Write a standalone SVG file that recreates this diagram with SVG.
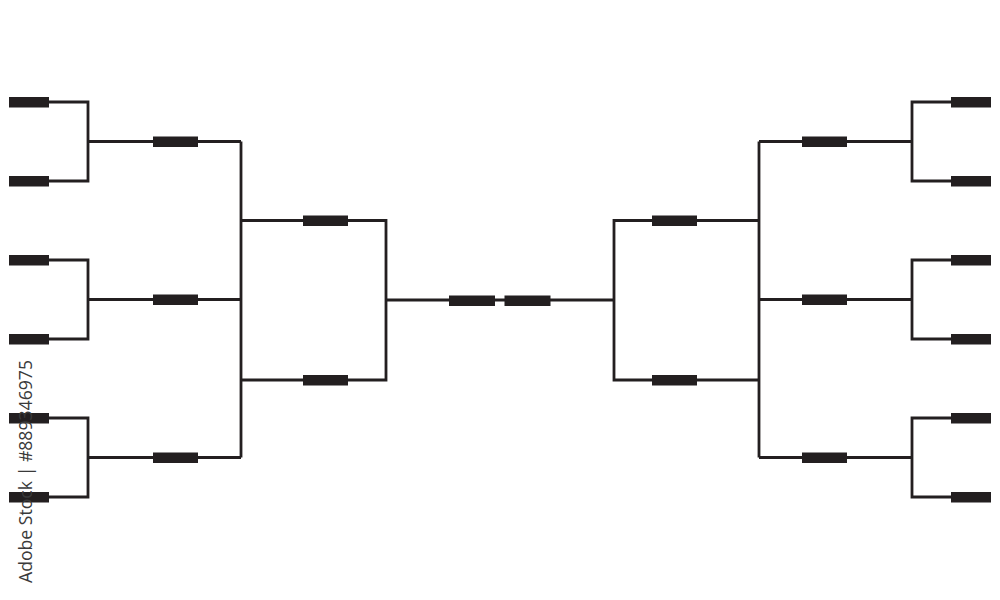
<svg xmlns="http://www.w3.org/2000/svg" width="1000" height="600" viewBox="0 0 1000 600">
<defs>
<style>
.c{fill:none;stroke:#231f20;stroke-width:2.8;stroke-linejoin:miter;stroke-linecap:butt}
.leaf{fill:#231f20}
.box{fill:#231f20}
.wm{font-family:"Open Sans","Liberation Sans",sans-serif;font-size:19px;fill:#3a3a3a}
</style>
</defs>
<rect width="1000" height="600" fill="#ffffff"/>
<g id="connectors">
<path class="c" d="M49,102 H88 V181 H49"/>
<path class="c" d="M49,260 H88 V339 H49"/>
<path class="c" d="M49,418 H88 V497 H49"/>
<path class="c" d="M88,141.5 H241 M88,299.5 H241 M88,457.5 H241"/>
<path class="c" d="M241,141.5 V457.5"/>
<path class="c" d="M241,220.5 H386 V380 H241"/>
<path class="c" d="M386,300 H614"/>
<path class="c" d="M951,102 H912 V181 H951"/>
<path class="c" d="M951,260 H912 V339 H951"/>
<path class="c" d="M951,418 H912 V497 H951"/>
<path class="c" d="M912,141.5 H759 M912,299.5 H759 M912,457.5 H759"/>
<path class="c" d="M759,141.5 V457.5"/>
<path class="c" d="M759,220.5 H614 V380 H759"/>
</g>
<g id="left-r1-1"><rect class="leaf" x="9" y="97" width="40" height="10.5"/></g>
<g id="left-r1-2"><rect class="leaf" x="9" y="176" width="40" height="10.5"/></g>
<g id="left-r1-3"><rect class="leaf" x="9" y="255" width="40" height="10.5"/></g>
<g id="left-r1-4"><rect class="leaf" x="9" y="334" width="40" height="10.5"/></g>
<g id="left-r1-5"><rect class="leaf" x="9" y="413" width="40" height="10.5"/></g>
<g id="left-r1-6"><rect class="leaf" x="9" y="492" width="40" height="10.5"/></g>
<g id="left-r2-1"><rect class="box" x="153" y="136.5" width="45" height="10.5"/></g>
<g id="left-r2-2"><rect class="box" x="153" y="294.5" width="45" height="10.5"/></g>
<g id="left-r2-3"><rect class="box" x="153" y="452.5" width="45" height="10.5"/></g>
<g id="left-r3-1"><rect class="box" x="303" y="215.5" width="45" height="10.5"/></g>
<g id="left-r3-2"><rect class="box" x="303" y="375" width="45" height="10.5"/></g>
<g id="final-left"><rect class="box" x="449" y="295.5" width="46" height="10.5"/></g>
<g id="final-right"><rect class="box" x="504.5" y="295.5" width="46" height="10.5"/></g>
<g id="right-r3-1"><rect class="box" x="652" y="215.5" width="45" height="10.5"/></g>
<g id="right-r3-2"><rect class="box" x="652" y="375" width="45" height="10.5"/></g>
<g id="right-r2-1"><rect class="box" x="802" y="136.5" width="45" height="10.5"/></g>
<g id="right-r2-2"><rect class="box" x="802" y="294.5" width="45" height="10.5"/></g>
<g id="right-r2-3"><rect class="box" x="802" y="452.5" width="45" height="10.5"/></g>
<g id="right-r1-1"><rect class="leaf" x="951" y="97" width="40" height="10.5"/></g>
<g id="right-r1-2"><rect class="leaf" x="951" y="176" width="40" height="10.5"/></g>
<g id="right-r1-3"><rect class="leaf" x="951" y="255" width="40" height="10.5"/></g>
<g id="right-r1-4"><rect class="leaf" x="951" y="334" width="40" height="10.5"/></g>
<g id="right-r1-5"><rect class="leaf" x="951" y="413" width="40" height="10.5"/></g>
<g id="right-r1-6"><rect class="leaf" x="951" y="492" width="40" height="10.5"/></g>
<g id="watermark">
<text class="wm" transform="translate(32,583) rotate(-90)" x="0" y="0" textLength="223" lengthAdjust="spacingAndGlyphs">Adobe Stock | #889346975</text>
</g>
</svg>
